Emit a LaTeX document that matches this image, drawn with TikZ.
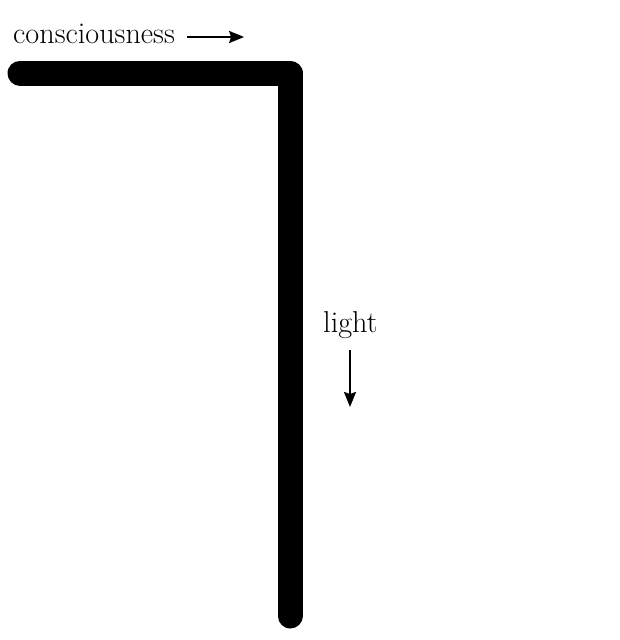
\documentclass[tikz,border=0pt]{standalone}
\usetikzlibrary{arrows.meta}
\tikzset{
  label text/.style={anchor=base west, inner sep=0pt, font=\fontsize{30.2}{36}\selectfont},
  flow/.style={line width=2.2pt, -{Stealth[length=15pt, width=12pt, inset=2pt]}},
  wall/.style={line width=25pt, line cap=round, line join=round}
}
\begin{document}
\begin{tikzpicture}[x=1pt, y=-1pt]
\useasboundingbox (0,0) rectangle (620,640);

\draw (20,73) coordinate (wl);
\draw (290,73) coordinate (wc);
\draw (290,616) coordinate (wb);
\draw [wall] (wl) -- (wc) -- (wb);

\draw (13,43) node (cons) [label text] {consciousness};
\draw (cons.base east) ++(12,-6) coordinate (c1);
\draw (c1) ++(57,0) coordinate (c2);
\draw [flow] (c1) -- (c2);

\draw (323,332) node (light) [label text] {light};
\draw (350,350) coordinate (l1);
\draw (l1) ++(0,57) coordinate (l2);
\draw [flow] (l1) -- (l2);

\end{tikzpicture}
\end{document}
